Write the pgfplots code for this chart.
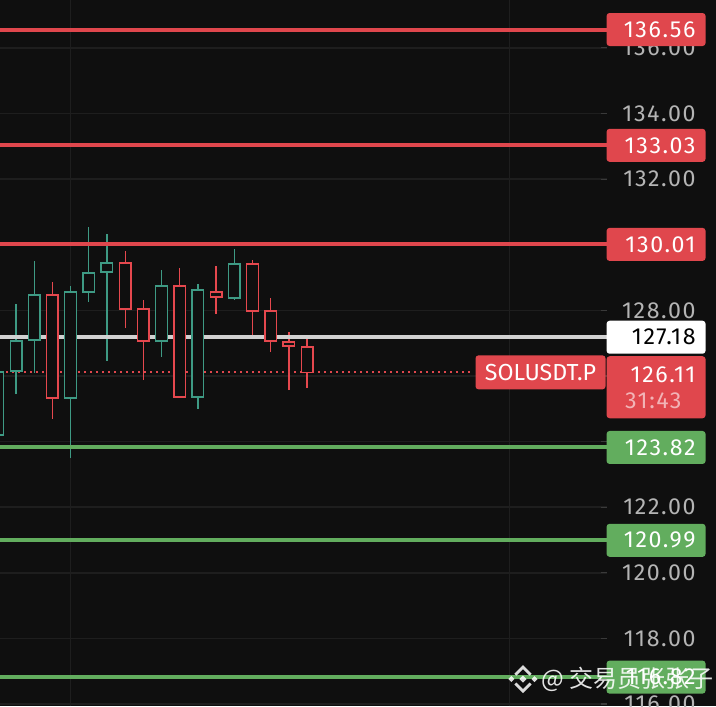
\documentclass[border=0pt]{standalone}
\usepackage{fontspec}
\setmainfont{Fira Sans}
\newfontfamily\labfont{Fira Sans}[LetterSpace=7]
\newfontfamily\cjk{Noto Sans CJK SC}
\usepackage{pgfplots}
\pgfplotsset{compat=1.18}
\usepackage{pgfplotstable}

\definecolor{bg}{HTML}{0F0F0F}
\definecolor{cgrid}{HTML}{1E1E1E}
\definecolor{ctk}{HTML}{3A3A3A}
\definecolor{cred}{HTML}{E0474D}
\definecolor{cgreen}{HTML}{62AD5E}
\definecolor{cup}{HTML}{3E9A84}
\definecolor{cdown}{HTML}{E5484E}
\definecolor{ctick}{HTML}{B4B4B4}
\definecolor{cgray}{HTML}{D1D1D1}
\definecolor{cpink}{HTML}{F2B3B6}

\newcommand{\lf}{\labfont\fontsize{11.6}{13}\selectfont}
\newcommand{\tagf}{\fontsize{11.6}{13}\selectfont}

% candle body, drawn up from min(open,close), \dh = body height in pt
\pgfdeclareplotmark{cbody}{%
  \pgfpathrectangle{\pgfpoint{-2.9pt}{0pt}}{\pgfpoint{5.8pt}{\dh pt}}%
  \pgfusepathqfillstroke}

% x = candle index, o h l c
\pgfplotstableread{
x  o      h      l      c
-1 124.20 126.12 124.20 126.12
0  126.15 128.20 125.45 127.07
1  127.10 129.51 126.09 128.47
3  125.33 128.74 123.50 128.56
4  128.56 130.54 128.26 129.14
5  129.17 130.33 126.46 129.44
8  127.07 129.23 126.58 128.74
10 125.36 128.80 125.00 128.62
12 128.38 129.87 128.32 129.41
}\upc
\pgfplotstableread{
x  o      h      l      c
2  128.47 128.87 124.69 125.33
6  129.44 129.81 127.46 128.04
7  128.04 128.32 125.88 127.07
9  128.74 129.29 125.36 125.36
11 128.56 129.35 127.89 128.41
13 129.41 129.54 127.19 127.98
14 127.98 128.38 126.73 127.07
15 127.04 127.34 125.57 126.91
16 126.88 127.22 125.63 126.11
}\downc

\tikzset{pbox/.style={rounded corners=1.5pt, text width=39.5pt, align=right,
  inner xsep=5pt, inner ysep=0pt, minimum height=16.5pt, anchor=east, font=\lf}}

\begin{document}
\begin{tikzpicture}
\useasboundingbox (0,0) rectangle (358pt,353pt);
\fill[bg] (0,0) rectangle (358pt,353pt);
\begin{axis}[
  scale only axis, width=303.5pt, height=353pt,
  at={(0,0)}, anchor=south west,
  xmin=-0.88, xmax=32.49, ymin=115.94, ymax=137.46,
  axis line style={draw=none},
  xtick={3,27.14}, xticklabels={}, xmajorgrids, xtick style={draw=none},
  ytick={116,118,...,136}, ymajorgrids, yticklabel pos=right, ytick pos=right,
  tick align=inside, major tick length=3pt, ytick style={ctk, line width=0.6pt},
  grid style={cgrid, line width=0.7pt},
  yticklabel style={anchor=east, xshift=44.5pt, inner sep=0pt, text=ctick, font=\lf,
    /pgf/number format/.cd, fixed, fixed zerofill, precision=2, assume math mode=true},
  clip=false,
]
% wicks
\addplot[draw=none, mark=none, forget plot, error bars/.cd, y dir=plus, y explicit,
  error mark=none, error bar style={draw=cup, line width=0.65pt}]
  table[x=x, y=l, y error expr=\thisrow{h}-\thisrow{l}] {\upc};
\addplot[draw=none, mark=none, forget plot, error bars/.cd, y dir=plus, y explicit,
  error mark=none, error bar style={draw=cdown, line width=0.65pt}]
  table[x=x, y=l, y error expr=\thisrow{h}-\thisrow{l}] {\downc};
% bodies
\addplot[scatter, only marks, mark=cbody, scatter/use mapped color={draw=cup, fill=bg},
  mark options={line width=0.7pt},
  visualization depends on={abs(\thisrow{o}-\thisrow{c})*16.403 \as \dh}]
  table[x=x, y expr={min(\thisrow{o},\thisrow{c})}] {\upc};
\addplot[scatter, only marks, mark=cbody, scatter/use mapped color={draw=cdown, fill=bg},
  mark options={line width=0.7pt},
  visualization depends on={abs(\thisrow{o}-\thisrow{c})*16.403 \as \dh}]
  table[x=x, y expr={min(\thisrow{o},\thisrow{c})}] {\downc};
% level lines
\addplot[cred, line width=2pt] coordinates {(-0.88,136.56) (32.49,136.56)};
\addplot[cred, line width=2pt] coordinates {(-0.88,133.03) (32.49,133.03)};
\addplot[cred, line width=2pt] coordinates {(-0.88,130.01) (32.49,130.01)};
\addplot[cgreen, line width=2pt] coordinates {(-0.88,123.82) (32.49,123.82)};
\addplot[cgreen, line width=2pt] coordinates {(-0.88,120.99) (32.49,120.99)};
\addplot[cgreen, line width=2pt] coordinates {(-0.88,116.82) (32.49,116.82)};
\addplot[cgray, line width=2pt] coordinates {(-0.88,127.18) (32.49,127.18)};
\addplot[cred, line width=1pt, dash pattern=on 1pt off 2pt] coordinates {(-0.88,126.11) (25.07,126.11)};

% price tags
\node[pbox, fill=cred, text=white] at (axis cs:37.93,136.56) {136.56};
\node[pbox, fill=cred, text=white] at (axis cs:37.93,133.03) {133.03};
\node[pbox, fill=cred, text=white] at (axis cs:37.93,130.01) {130.01};
\node[pbox, fill=white, text=black] at (axis cs:37.93,127.18) {127.18};
\node[pbox, fill=cgreen, text=white] at (axis cs:37.93,123.82) {123.82};
\node[pbox, fill=cgreen, text=white] at (axis cs:37.93,120.99) {120.99};
\node[pbox, fill=cgreen, text=white] at (axis cs:37.93,116.82) {116.82};
\node[rounded corners=1.5pt, fill=cred, anchor=north east, minimum width=49.5pt,
  minimum height=31pt, inner sep=0pt] at (axis cs:37.93,126.613) {};
\node[anchor=east, inner sep=0pt, font=\lf, text=white] at (axis cs:37.38,126.03) {126.11};
\node[anchor=east, inner sep=0pt, font=\lf, text=cpink] at (axis cs:36.61,125.24) {31:43};
\node[rounded corners=1.5pt, fill=cred, anchor=east, minimum width=65pt,
  minimum height=17pt, inner sep=0pt, font=\tagf, text=white] at (axis cs:32.43,126.11) {SOLUSDT.P};

% watermark
\begin{scope}[shift={(axis cs:27.87,116.76)}, white, opacity=0.85]
  \fill (0pt,1.8pt) -- (1.8pt,0pt) -- (0pt,-1.8pt) -- (-1.8pt,0pt) -- cycle;
  \fill (5.8pt,1.5pt) -- (7.3pt,0pt) -- (5.8pt,-1.5pt) -- (4.3pt,0pt) -- cycle;
  \fill (-5.8pt,1.5pt) -- (-4.3pt,0pt) -- (-5.8pt,-1.5pt) -- (-7.3pt,0pt) -- cycle;
  \draw[line width=1.4pt] (-3.8pt,2.2pt) -- (0pt,6pt) -- (3.8pt,2.2pt);
  \draw[line width=1.4pt] (-3.8pt,-2.2pt) -- (0pt,-6pt) -- (3.8pt,-2.2pt);
\end{scope}
\node[anchor=west, inner sep=0pt, text=white, opacity=0.88,
  font=\cjk\fontsize{12}{13}\selectfont] at (axis cs:28.86,116.76) {@ 交易员张张子};
\end{axis}
\end{tikzpicture}
\end{document}
